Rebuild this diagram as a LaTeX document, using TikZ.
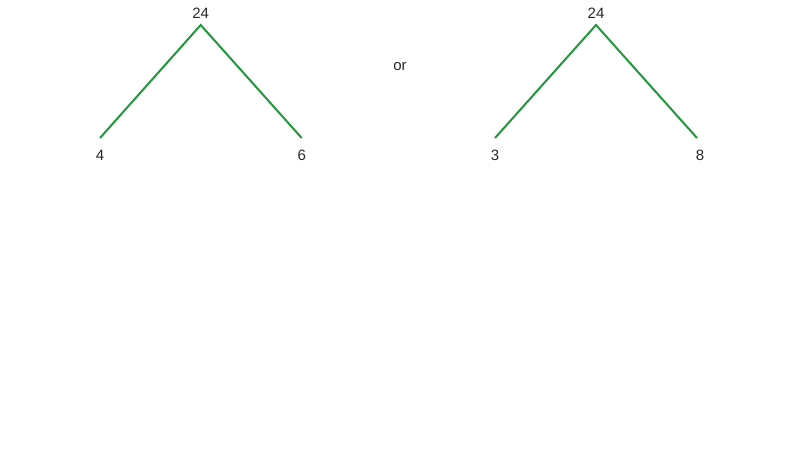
\documentclass[tikz,border=0pt]{standalone}
\usepackage{fontspec}
\setmainfont{Liberation Sans}
\definecolor{treegreen}{RGB}{34,150,60}
\definecolor{txt}{RGB}{40,40,40}
\begin{document}
\begin{tikzpicture}[x=1pt,y=-1pt,
  edge/.style={draw=treegreen,line width=2pt},
  lbl/.style={inner sep=0pt,text=txt,font=\fontsize{15}{17}\selectfont}]
\useasboundingbox (0,0) rectangle (800,450);
% left tree
\coordinate (la) at (200.7,25);
\coordinate (ll) at (100,138);
\coordinate (lr) at (301.7,138);
\node[lbl] (l24) at (200.7,13) {24};
\node[lbl] (l4) at (100,155) {4};
\node[lbl] (l6) at (301.7,155) {6};
\draw[edge] (ll) -- (la) -- (lr);
% or
\node[lbl] (or) at (400,66.5) {or};
% right tree
\coordinate (ra) at (596,25);
\coordinate (rl) at (495,138);
\coordinate (rr) at (697,138);
\node[lbl] (r24) at (596,13) {24};
\node[lbl] (r3) at (495,155) {3};
\node[lbl] (r8) at (700,155) {8};
\draw[edge] (rl) -- (ra) -- (rr);
\end{tikzpicture}
\end{document}
